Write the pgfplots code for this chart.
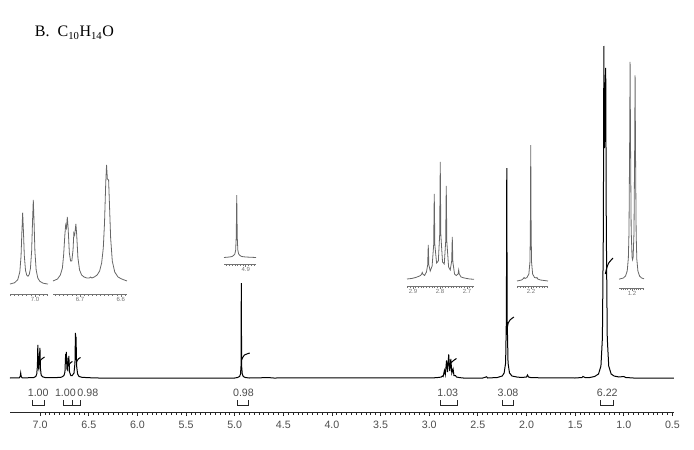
\documentclass[border=0pt]{standalone}
\usepackage{pgfplots}
\pgfplotsset{compat=1.18}
\usepackage{fontspec}
\setmainfont{Liberation Serif}
\newfontfamily\lsans{Liberation Sans}
\begin{document}
\begin{tikzpicture}
\path[use as bounding box] (0pt,0pt) rectangle (520.5pt,-337.5pt);
\node[anchor=west,font=\fontsize{12}{12}\selectfont,inner sep=0pt] at (26pt,-24.5pt) {B.\ \ C\textsubscript{10}H\textsubscript{14}O};
% ---------------- main spectrum ----------------
\begin{axis}[at={(7.5pt,-309pt)},anchor=south west,scale only axis,
  width=498pt,height=280.5pt,
  x dir=reverse,xmin=0.484,xmax=7.31,ymin=-34,ymax=340,
  axis x line*=bottom, axis y line=none, clip=false,
  axis line style={black!85,line width=0.7pt},
  tick align=outside,
  xtick={0.5,1,1.5,2,2.5,3,3.5,4,4.5,5,5.5,6,6.5,7},
  xticklabels={0.5,1.0,1.5,2.0,2.5,3.0,3.5,4.0,4.5,5.0,5.5,6.0,6.5,7.0},
  minor x tick num=9,
  major tick length=3pt, minor tick length=2pt,
  tick style={black!85,line width=0.6pt},
  xticklabel style={font=\lsans\fontsize{8}{8}\selectfont,text=black!70},
  ytick=\empty]
\addplot[black,line width=0.75pt] coordinates {
(7.31,0) (7.215,0.2) (7.205,1.5) (7.200,5) (7.195,1.5) (7.185,0.2) (7.07,0.3)
(7.045,1.5) (7.035,4) (7.028,12) (7.024,33) (7.019,11) (7.014,9) (7.002,30)
(6.997,10) (6.99,3) (6.975,1.2) (6.95,0.5) (6.85,0.3) (6.78,0.8) (6.755,2.5)
(6.745,6) (6.738,24) (6.733,14) (6.731,26) (6.724,9) (6.718,8) (6.712,20)
(6.708,12) (6.705,22) (6.698,6) (6.685,2.5) (6.670,2.5) (6.652,5) (6.642,15)
(6.637,45) (6.634,36) (6.631,41) (6.625,12) (6.615,4) (6.60,1.5) (6.57,0.7)
(6.50,0.3) (6.40,0) (5.00,0) (4.97,0.5) (4.950,1.5) (4.940,4) (4.935,12)
(4.932,95) (4.929,12) (4.922,4) (4.912,1.5) (4.89,0.5) (4.85,0) (4.65,0.4) (4.60,0)
(2.95,0.2) (2.90,0.6) (2.875,1) (2.866,2) (2.857,1.5) (2.844,7.5) (2.835,3.5)
(2.822,17.5) (2.812,6) (2.800,23.5) (2.789,7) (2.778,19) (2.768,5) (2.755,9)
(2.746,2.5) (2.731,2.5) (2.72,1) (2.69,0.4) (2.65,0) (2.45,0) (2.41,1.2) (2.40,0)
(2.30,0.5) (2.25,2) (2.23,5) (2.215,15) (2.207,60) (2.203,210) (2.199,60)
(2.19,15) (2.175,5) (2.15,2) (2.10,1) (2.05,0.5) (2.00,1) (1.99,3) (1.98,1)
(1.95,0.3) (1.50,0) (1.43,0.5) (1.42,1.5) (1.40,0.5) (1.35,0.5) (1.30,1.5)
(1.26,4) (1.235,12) (1.22,40) (1.210,150) (1.205,332) (1.200,230) (1.195,250)
(1.186,310) (1.180,150) (1.17,40) (1.155,12) (1.13,4) (1.10,2) (1.05,1) (1.00,1.5)
(0.98,0.5) (0.90,0) (0.484,0)};
% integral traces
\addplot[black,line width=0.75pt,smooth] coordinates {(7.018,13) (7.008,16) (6.99,18.5) (6.955,21)};
\addplot[black,line width=0.75pt,smooth] coordinates {(6.706,12) (6.698,14) (6.685,15.5) (6.668,16.5)};
\addplot[black,line width=0.75pt,smooth] coordinates {(6.630,15) (6.622,17) (6.608,19) (6.585,20.5)};
\addplot[black,line width=0.75pt,smooth] coordinates {(4.928,18) (4.918,20.5) (4.90,23) (4.845,25)};
\addplot[black,line width=0.75pt,smooth] coordinates {(2.800,12) (2.780,15) (2.750,17.5) (2.720,19.5)};
\addplot[black,line width=0.75pt,smooth] coordinates {(2.198,50) (2.188,55) (2.170,58) (2.130,61)};
\addplot[black,line width=0.75pt,smooth] coordinates {(1.190,104) (1.175,110) (1.155,115) (1.111,120)};
% integration brackets
\begin{scope}[black!85,line width=0.75pt]
\draw (axis cs:7.08,-22) -- (axis cs:7.08,-27) -- (axis cs:6.96,-27) -- (axis cs:6.96,-22);
\draw (axis cs:6.76,-22) -- (axis cs:6.76,-27) -- (axis cs:6.59,-27) -- (axis cs:6.59,-22);
\draw (axis cs:6.67,-27) -- (axis cs:6.67,-22);
\draw (axis cs:4.975,-22) -- (axis cs:4.975,-27) -- (axis cs:4.86,-27) -- (axis cs:4.86,-22);
\draw (axis cs:2.88,-22) -- (axis cs:2.88,-27) -- (axis cs:2.71,-27) -- (axis cs:2.71,-22);
\draw (axis cs:2.25,-22) -- (axis cs:2.25,-27) -- (axis cs:2.13,-27) -- (axis cs:2.13,-22);
\draw (axis cs:1.235,-22) -- (axis cs:1.235,-27) -- (axis cs:1.11,-27) -- (axis cs:1.11,-22);
\end{scope}
\begin{scope}[every node/.style={font=\lsans\fontsize{8}{8}\selectfont,text=black!70,inner sep=0pt}]
\node at (axis cs:7.02,-15) {1.00};
\node at (axis cs:6.74,-15) {1.00};
\node at (axis cs:6.51,-15) {0.98};
\node at (axis cs:4.91,-15) {0.98};
\node at (axis cs:2.81,-15) {1.03};
\node at (axis cs:2.19,-15) {3.08};
\node at (axis cs:1.17,-15) {6.22};
\end{scope}
\end{axis}
% ---------------- insets ----------------
\pgfplotsset{inset/.style={anchor=south west,scale only axis,x dir=reverse,
  axis x line*=bottom, axis y line=none, clip=false,
  axis line style={black!55,line width=0.5pt},
  tick align=outside, major tick length=2.2pt, minor tick length=1.5pt,
  tick style={black!55,line width=0.4pt},
  xticklabel style={font=\lsans\fontsize{4.5}{4.5}\selectfont,text=black!55,inner sep=0.3pt},
  ytick=\empty}}
% inset 1: 7.0
\begin{axis}[inset,at={(7.5pt,-220.5pt)},width=28.5pt,height=81.75pt,
  xmin=6.968,xmax=7.061,ymin=-9,ymax=100,
  xtick={7.0},xticklabels={7.0},
  minor xtick={6.97,6.98,6.99,7.01,7.02,7.03,7.04,7.05,7.06}]
\addplot[black!60,line width=0.6pt] coordinates {
(7.061,1.0) (7.050,2.2) (7.042,5.3) (7.037,13) (7.034,28.7) (7.032,52)
(7.030,72.3) (7.028,52.5) (7.026,29.5) (7.023,14.5) (7.020,9.8) (7.017,8.8)
(7.014,10.5) (7.011,16.5) (7.008,34.3) (7.006,61.7) (7.004,85.1) (7.002,61.4)
(7.000,33.6) (6.997,15.2) (6.993,7) (6.988,3.7) (6.980,1.8) (6.968,0.9)};
\end{axis}
% inset 2: 6.7 / 6.6
\begin{axis}[inset,at={(39.75pt,-220.5pt)},width=55.5pt,height=105.75pt,
  xmin=6.585,xmax=6.766,ymin=-11,ymax=130,
  xtick={6.6,6.7},xticklabels={6.6,6.7},
  minor xtick={6.59,6.61,6.62,6.63,6.64,6.65,6.66,6.67,6.68,6.69,6.71,6.72,6.73,6.74,6.75,6.76}]
\addplot[black!60,line width=0.6pt] coordinates {
(6.766,2) (6.755,4) (6.748,8) (6.743,15) (6.740,28) (6.737,48) (6.735,58)
(6.733,55) (6.731,66) (6.729,55) (6.726,30) (6.723,22) (6.720,22) (6.717,33)
(6.715,50) (6.713,48) (6.710,59) (6.708,48) (6.705,25) (6.701,13) (6.696,8)
(6.690,6) (6.683,5) (6.677,5) (6.674,6) (6.671,5) (6.665,6) (6.658,8)
(6.652,12) (6.647,20) (6.643,35) (6.640,60) (6.637,100) (6.635,118) (6.633,104)
(6.630,103) (6.628,80) (6.625,45) (6.621,22) (6.615,11) (6.607,6) (6.598,4) (6.585,2)};
\end{axis}
% inset 3: 4.9
\begin{axis}[inset,at={(168pt,-198pt)},width=24pt,height=57pt,
  xmin=4.862,xmax=4.98,ymin=-6,ymax=70,
  xtick={4.9},xticklabels={4.9},
  minor xtick={4.87,4.88,4.89,4.91,4.92,4.93,4.94,4.95,4.96,4.97}]
\addplot[black!60,line width=0.6pt] coordinates {
(4.980,0.5) (4.960,1) (4.950,1.5) (4.945,2.5) (4.940,4) (4.937,8) (4.935,20)
(4.934,40) (4.933,63) (4.932,40) (4.931,20) (4.929,8) (4.926,4) (4.921,2.5)
(4.915,1.5) (4.900,1) (4.862,0.5)};
\end{axis}
% inset 4: septet 2.8
\begin{axis}[inset,at={(305.25pt,-214.5pt)},width=50.25pt,height=98.25pt,
  xmin=2.674,xmax=2.922,ymin=-6,ymax=125,
  xtick={2.7,2.8,2.9},xticklabels={2.7,2.8,2.9},
  minor xtick={2.68,2.69,2.71,2.72,2.73,2.74,2.75,2.76,2.77,2.78,2.79,2.81,2.82,2.83,2.84,2.85,2.86,2.87,2.88,2.89,2.91,2.92}]
\addplot[black!60,line width=0.6pt] coordinates {
(2.922,1) (2.905,1.5) (2.890,2.5) (2.880,3.5) (2.872,4.5) (2.8675,6) (2.8656,7.5)
(2.8635,6) (2.857,4.5) (2.850,8) (2.8455,15) (2.8433,35) (2.8411,15) (2.836,9)
(2.829,14) (2.8233,35) (2.8211,86) (2.8189,35) (2.8125,17) (2.806,19) (2.8011,45)
(2.7989,118) (2.7967,45) (2.7905,18) (2.784,16) (2.7789,38) (2.7767,94) (2.7745,38)
(2.768,13) (2.762,10) (2.7566,19) (2.7544,43) (2.7522,18) (2.746,6) (2.740,4.5)
(2.7329,6) (2.7307,10) (2.7285,6) (2.722,3) (2.710,2) (2.690,1) (2.674,0.7)};
\end{axis}
% inset 5: 2.2
\begin{axis}[inset,at={(387.75pt,-214.5pt)},width=23.25pt,height=108pt,
  xmin=2.137,xmax=2.252,ymin=-4,ymax=140,
  xtick={2.2},xticklabels={2.2},
  minor xtick={2.14,2.15,2.16,2.17,2.18,2.19,2.21,2.22,2.23,2.24,2.25}]
\addplot[black!60,line width=0.6pt] coordinates {
(2.252,1) (2.235,2) (2.228,3.5) (2.226,4.5) (2.222,3.5) (2.215,4.5) (2.208,8)
(2.204,20) (2.2025,50) (2.201,137) (2.1995,50) (2.198,20) (2.194,8) (2.187,4.5)
(2.180,4) (2.178,4.5) (2.175,3) (2.165,2) (2.137,1)};
\end{axis}
% inset 6: 1.2
\begin{axis}[inset,at={(464.25pt,-216pt)},width=18.75pt,height=171pt,
  xmin=1.145,xmax=1.26,ymin=-8,ymax=220,
  xtick={1.2},xticklabels={1.2},
  minor xtick={1.15,1.16,1.17,1.18,1.19,1.21,1.22,1.23,1.24,1.25}]
\addplot[black!60,line width=0.6pt] coordinates {
(1.26,0.8) (1.24,2) (1.23,4) (1.222,9.3) (1.217,22) (1.214,48) (1.211,138)
(1.209,218) (1.207,139) (1.204,50) (1.200,23) (1.1975,20.3) (1.195,22.7)
(1.191,47.4) (1.188,130) (1.186,204.7) (1.184,129) (1.181,45) (1.178,20.7)
(1.173,8.9) (1.165,3.8) (1.155,1.9) (1.145,1.2)};
\end{axis}
\end{tikzpicture}
\end{document}
